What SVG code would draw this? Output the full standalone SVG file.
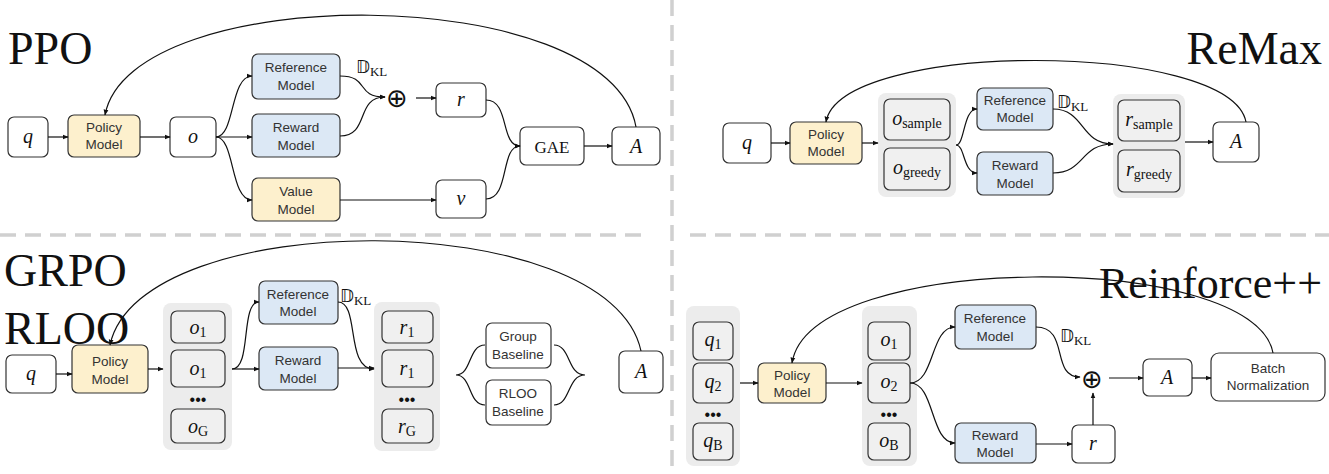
<svg xmlns="http://www.w3.org/2000/svg" width="1329" height="474" viewBox="0 0 1329 474">
<defs>
<marker id="ar" viewBox="0 0 10 10" refX="9" refY="5" markerWidth="5" markerHeight="5" orient="auto"><path d="M0,1 L10,5 L0,9 z" fill="#111"/></marker>
<style>
.b{fill:#fff;stroke:#333;stroke-width:1.2}
.y{fill:#fdf0cd;stroke:#333;stroke-width:1.2}
.u{fill:#dce8f5;stroke:#333;stroke-width:1.2}
.g{fill:#f0f0f0;stroke:#333;stroke-width:1.2}
.grp{fill:#ececec;stroke:none}
.t{font-family:"Liberation Sans",Arial,sans-serif;font-size:13.5px;fill:#333;text-anchor:middle}
.m{font-family:"Liberation Serif","DejaVu Serif",serif;font-style:italic;font-size:20px;fill:#111;text-anchor:middle}
.s{font-style:normal;font-size:14px}
.kl{font-family:"DejaVu Sans",sans-serif;font-size:17px;fill:#111}
.kls{font-family:"Liberation Serif",serif;font-size:13px}
.ttl{font-family:"Liberation Serif","DejaVu Serif",serif;font-size:46px;fill:#111}
.op{font-family:"DejaVu Sans",sans-serif;font-size:26px;fill:#111;text-anchor:middle}
.c{fill:none;stroke:#111;stroke-width:1.2}
.d{fill:none;stroke:#d0d0d0;stroke-width:3.5;stroke-dasharray:16 9}
</style>
</defs>
<g id="dividers">
<line class="d" x1="0" y1="235" x2="645" y2="235"/>
<line class="d" x1="690" y1="235" x2="1329" y2="235"/>
<line class="d" x1="672" y1="0" x2="672" y2="474"/>
</g>
<g id="titles">
<text class="ttl" x="8" y="64">PPO</text>
<text class="ttl" x="1322" y="64" text-anchor="end">ReMax</text>
<text class="ttl" x="4" y="286">GRPO</text>
<text class="ttl" x="4" y="344">RLOO</text>
<text class="ttl" x="1322" y="298" text-anchor="end" style="font-size:44px">Reinforce++</text>
</g>
<!-- PPO -->
<g id="ppo-q"><rect class="b" x="8" y="117" width="40" height="40" rx="6"/><text class="m" x="28" y="143">q</text></g>
<g id="ppo-policy"><rect class="y" x="68" y="115" width="72" height="42" rx="6"/><text class="t" x="104" y="132">Policy</text><text class="t" x="104" y="149">Model</text></g>
<g id="ppo-o"><rect class="b" x="170" y="117" width="46" height="40" rx="6"/><text class="m" x="193" y="143">o</text></g>
<g id="ppo-ref"><rect class="u" x="252" y="54" width="88" height="45" rx="6"/><text class="t" x="296" y="72">Reference</text><text class="t" x="296" y="90">Model</text></g>
<g id="ppo-rew"><rect class="u" x="252" y="114" width="88" height="43" rx="6"/><text class="t" x="296" y="132">Reward</text><text class="t" x="296" y="150">Model</text></g>
<g id="ppo-val"><rect class="y" x="252" y="178" width="88" height="43" rx="6"/><text class="t" x="296" y="196">Value</text><text class="t" x="296" y="214">Model</text></g>
<g id="ppo-kl"><text class="kl" x="356" y="73">𝔻<tspan class="kls" dy="3">KL</tspan></text></g>
<g id="ppo-plus"><text class="op" x="397" y="107">⊕</text></g>
<g id="ppo-r"><rect class="b" x="436" y="83" width="50" height="34" rx="6"/><text class="m" x="461" y="106">r</text></g>
<g id="ppo-v"><rect class="b" x="436" y="180" width="50" height="38" rx="6"/><text class="m" x="461" y="205">v</text></g>
<g id="ppo-gae"><rect class="b" x="520" y="127" width="64" height="38" rx="6"/><text class="m" x="552" y="153" style="font-style:normal;font-size:17px">GAE</text></g>
<g id="ppo-a"><rect class="b" x="612" y="127" width="48" height="38" rx="6"/><text class="m" x="636" y="153">A</text></g>
<!-- ReMax -->
<g id="rm-q"><rect class="b" x="723" y="123" width="48" height="40" rx="6"/><text class="m" x="747" y="149">q</text></g>
<g id="rm-policy"><rect class="y" x="790" y="122" width="72" height="42" rx="6"/><text class="t" x="826" y="139">Policy</text><text class="t" x="826" y="156">Model</text></g>
<g id="rm-o"><rect class="grp" x="878" y="93" width="78" height="104" rx="8"/>
<rect class="g" x="884" y="99" width="66" height="41" rx="6"/><text class="m" x="917" y="125">o<tspan class="s" dy="3">sample</tspan></text>
<rect class="g" x="884" y="148" width="66" height="42" rx="6"/><text class="m" x="917" y="174">o<tspan class="s" dy="3">greedy</tspan></text></g>
<g id="rm-ref"><rect class="u" x="977" y="88" width="76" height="42" rx="6"/><text class="t" x="1015" y="105">Reference</text><text class="t" x="1015" y="122">Model</text></g>
<g id="rm-rew"><rect class="u" x="977" y="152" width="76" height="43" rx="6"/><text class="t" x="1015" y="170">Reward</text><text class="t" x="1015" y="188">Model</text></g>
<g id="rm-kl"><text class="kl" x="1057" y="108">𝔻<tspan class="kls" dy="3">KL</tspan></text></g>
<g id="rm-r"><rect class="grp" x="1113" y="94" width="72" height="104" rx="8"/>
<rect class="g" x="1118" y="100" width="62" height="41" rx="6"/><text class="m" x="1149" y="126">r<tspan class="s" dy="3">sample</tspan></text>
<rect class="g" x="1118" y="150" width="62" height="42" rx="6"/><text class="m" x="1149" y="176">r<tspan class="s" dy="3">greedy</tspan></text></g>
<g id="rm-a"><rect class="b" x="1213" y="122" width="46" height="40" rx="6"/><text class="m" x="1236" y="148">A</text></g>
<!-- GRPO -->
<g id="gr-q"><rect class="b" x="6" y="355" width="50" height="38" rx="6"/><text class="m" x="31" y="380">q</text></g>
<g id="gr-policy"><rect class="y" x="72" y="345" width="76" height="48" rx="6"/><text class="t" x="110" y="366">Policy</text><text class="t" x="110" y="384">Model</text></g>
<g id="gr-o"><rect class="grp" x="163" y="303" width="69" height="147" rx="8"/>
<rect class="g" x="171" y="311" width="54" height="32" rx="6"/><text class="m" x="198" y="334">o<tspan class="s" dy="3">1</tspan></text>
<rect class="g" x="171" y="350" width="54" height="37" rx="6"/><text class="m" x="198" y="375">o<tspan class="s" dy="3">1</tspan></text>
<text class="t" x="198" y="405" style="font-size:16px;fill:#111">•••</text>
<rect class="g" x="171" y="409" width="54" height="34" rx="6"/><text class="m" x="198" y="433">o<tspan class="s" dy="3">G</tspan></text></g>
<g id="gr-ref"><rect class="u" x="259" y="281" width="79" height="43" rx="6"/><text class="t" x="298" y="299">Reference</text><text class="t" x="298" y="316">Model</text></g>
<g id="gr-rew"><rect class="u" x="259" y="347" width="79" height="43" rx="6"/><text class="t" x="298" y="365">Reward</text><text class="t" x="298" y="383">Model</text></g>
<g id="gr-kl"><text class="kl" x="340" y="302">𝔻<tspan class="kls" dy="3">KL</tspan></text></g>
<g id="gr-r"><rect class="grp" x="374" y="302" width="66" height="149" rx="8"/>
<rect class="g" x="382" y="311" width="51" height="32" rx="6"/><text class="m" x="407" y="334">r<tspan class="s" dy="3">1</tspan></text>
<rect class="g" x="382" y="350" width="51" height="37" rx="6"/><text class="m" x="407" y="375">r<tspan class="s" dy="3">1</tspan></text>
<text class="t" x="407" y="405" style="font-size:16px;fill:#111">•••</text>
<rect class="g" x="382" y="409" width="51" height="34" rx="6"/><text class="m" x="407" y="433">r<tspan class="s" dy="3">G</tspan></text></g>
<g id="gr-gb"><rect class="b" x="486" y="323" width="65" height="45" rx="6"/><text class="t" x="518" y="341">Group</text><text class="t" x="518" y="359">Baseline</text></g>
<g id="gr-rb"><rect class="b" x="486" y="380" width="65" height="45" rx="6"/><text class="t" x="518" y="398">RLOO</text><text class="t" x="518" y="416">Baseline</text></g>
<g id="gr-a"><rect class="b" x="619" y="351" width="44" height="42" rx="6"/><text class="m" x="641" y="378">A</text></g>
<!-- Reinforce++ -->
<g id="rf-q"><rect class="grp" x="686" y="306" width="54" height="160" rx="8"/>
<rect class="g" x="693" y="322" width="40" height="38" rx="6"/><text class="m" x="713" y="346">q<tspan class="s" dy="3">1</tspan></text>
<rect class="g" x="693" y="363" width="40" height="40" rx="6"/><text class="m" x="713" y="388">q<tspan class="s" dy="3">2</tspan></text>
<text class="t" x="713" y="420" style="font-size:16px;fill:#111">•••</text>
<rect class="g" x="693" y="423" width="40" height="37" rx="6"/><text class="m" x="713" y="447">q<tspan class="s" dy="3">B</tspan></text></g>
<g id="rf-policy"><rect class="y" x="758" y="363" width="68" height="40" rx="6"/><text class="t" x="792" y="380">Policy</text><text class="t" x="792" y="397">Model</text></g>
<g id="rf-o"><rect class="grp" x="862" y="306" width="55" height="160" rx="8"/>
<rect class="g" x="868" y="322" width="42" height="38" rx="6"/><text class="m" x="889" y="346">o<tspan class="s" dy="3">1</tspan></text>
<rect class="g" x="868" y="363" width="42" height="40" rx="6"/><text class="m" x="889" y="388">o<tspan class="s" dy="3">2</tspan></text>
<text class="t" x="889" y="420" style="font-size:16px;fill:#111">•••</text>
<rect class="g" x="868" y="423" width="42" height="37" rx="6"/><text class="m" x="889" y="447">o<tspan class="s" dy="3">B</tspan></text></g>
<g id="rf-ref"><rect class="u" x="955" y="305" width="81" height="44" rx="6"/><text class="t" x="995" y="323">Reference</text><text class="t" x="995" y="341">Model</text></g>
<g id="rf-rew"><rect class="u" x="955" y="423" width="81" height="40" rx="6"/><text class="t" x="995" y="440">Reward</text><text class="t" x="995" y="457">Model</text></g>
<g id="rf-kl"><text class="kl" x="1060" y="342">𝔻<tspan class="kls" dy="3">KL</tspan></text></g>
<g id="rf-plus"><text class="op" x="1092" y="388">⊕</text></g>
<g id="rf-r"><rect class="b" x="1072" y="425" width="43" height="38" rx="6"/><text class="m" x="1093" y="450">r</text></g>
<g id="rf-a"><rect class="b" x="1143" y="359" width="49" height="37" rx="6"/><text class="m" x="1167" y="384">A</text></g>
<g id="rf-bn"><rect class="b" x="1211" y="353" width="114" height="48" rx="8"/><text class="t" x="1268" y="373">Batch</text><text class="t" x="1268" y="390">Normalization</text></g>
<g id="connectors">
<path class="c" marker-end="url(#ar)" d="M48,137 H68"/>
<path class="c" marker-end="url(#ar)" d="M140,137 H170"/>
<path class="c" marker-end="url(#ar)" d="M216,137 C235,137 230,76 252,76"/>
<path class="c" marker-end="url(#ar)" d="M216,137 H252"/>
<path class="c" marker-end="url(#ar)" d="M216,137 C235,137 230,200 252,200"/>
<path class="c" marker-end="url(#ar)" d="M340,76 C370,76 355,97 385,97"/>
<path class="c" marker-end="url(#ar)" d="M340,136 C370,136 355,97 385,97"/>
<path class="c" marker-end="url(#ar)" d="M416,98 H436"/>
<path class="c" marker-end="url(#ar)" d="M340,200 H436"/>
<path class="c" marker-end="url(#ar)" d="M486,100 C510,100 500,146 520,146"/>
<path class="c" marker-end="url(#ar)" d="M486,199 C510,199 500,146 520,146"/>
<path class="c" marker-end="url(#ar)" d="M584,146 H612"/>
<path class="c" marker-end="url(#ar)" d="M636,127 C610,-20 130,-20 105,115"/>
<path class="c" marker-end="url(#ar)" d="M771,143 H790"/>
<path class="c" marker-end="url(#ar)" d="M862,143 H878"/>
<path class="c" marker-end="url(#ar)" d="M956,145 C965,145 963,109 977,109"/>
<path class="c" marker-end="url(#ar)" d="M956,145 C965,145 963,173 977,173"/>
<path class="c" marker-end="url(#ar)" d="M1053,109 C1085,109 1080,144 1113,144"/>
<path class="c" marker-end="url(#ar)" d="M1053,173 C1085,173 1080,144 1113,144"/>
<path class="c" marker-end="url(#ar)" d="M1185,142 H1213"/>
<path class="c" marker-end="url(#ar)" d="M1246,122 C1230,40 840,40 826,122"/>
<path class="c" marker-end="url(#ar)" d="M56,374 H72"/>
<path class="c" marker-end="url(#ar)" d="M148,369 H163"/>
<path class="c" marker-end="url(#ar)" d="M232,369 C252,369 240,302 259,302"/>
<path class="c" marker-end="url(#ar)" d="M232,369 H259"/>
<path class="c" marker-end="url(#ar)" d="M338,302 C360,302 345,369 374,369"/>
<path class="c" marker-end="url(#ar)" d="M338,368 H374"/>
<path class="c" d="M485,345 C468,345 472,375 456,375 C472,375 468,405 485,405"/>
<path class="c" d="M554,345 C571,345 567,375 585,375 C567,375 571,405 554,405"/>
<path class="c" marker-end="url(#ar)" d="M641,351 C610,205 140,205 110,345"/>
<path class="c" marker-end="url(#ar)" d="M740,383 H758"/>
<path class="c" marker-end="url(#ar)" d="M826,383 H862"/>
<path class="c" marker-end="url(#ar)" d="M910,383 C935,383 930,327 955,327"/>
<path class="c" marker-end="url(#ar)" d="M910,383 C935,383 930,443 955,443"/>
<path class="c" marker-end="url(#ar)" d="M1036,327 C1070,327 1050,377 1080,377"/>
<path class="c" marker-end="url(#ar)" d="M1036,444 H1072"/>
<path class="c" marker-end="url(#ar)" d="M1093,425 V393"/>
<path class="c" marker-end="url(#ar)" d="M1109,378 H1143"/>
<path class="c" marker-end="url(#ar)" d="M1192,378 H1211"/>
<path class="c" marker-end="url(#ar)" d="M1273,353 C1255,250 810,250 792,363"/>
</g>
</svg>
